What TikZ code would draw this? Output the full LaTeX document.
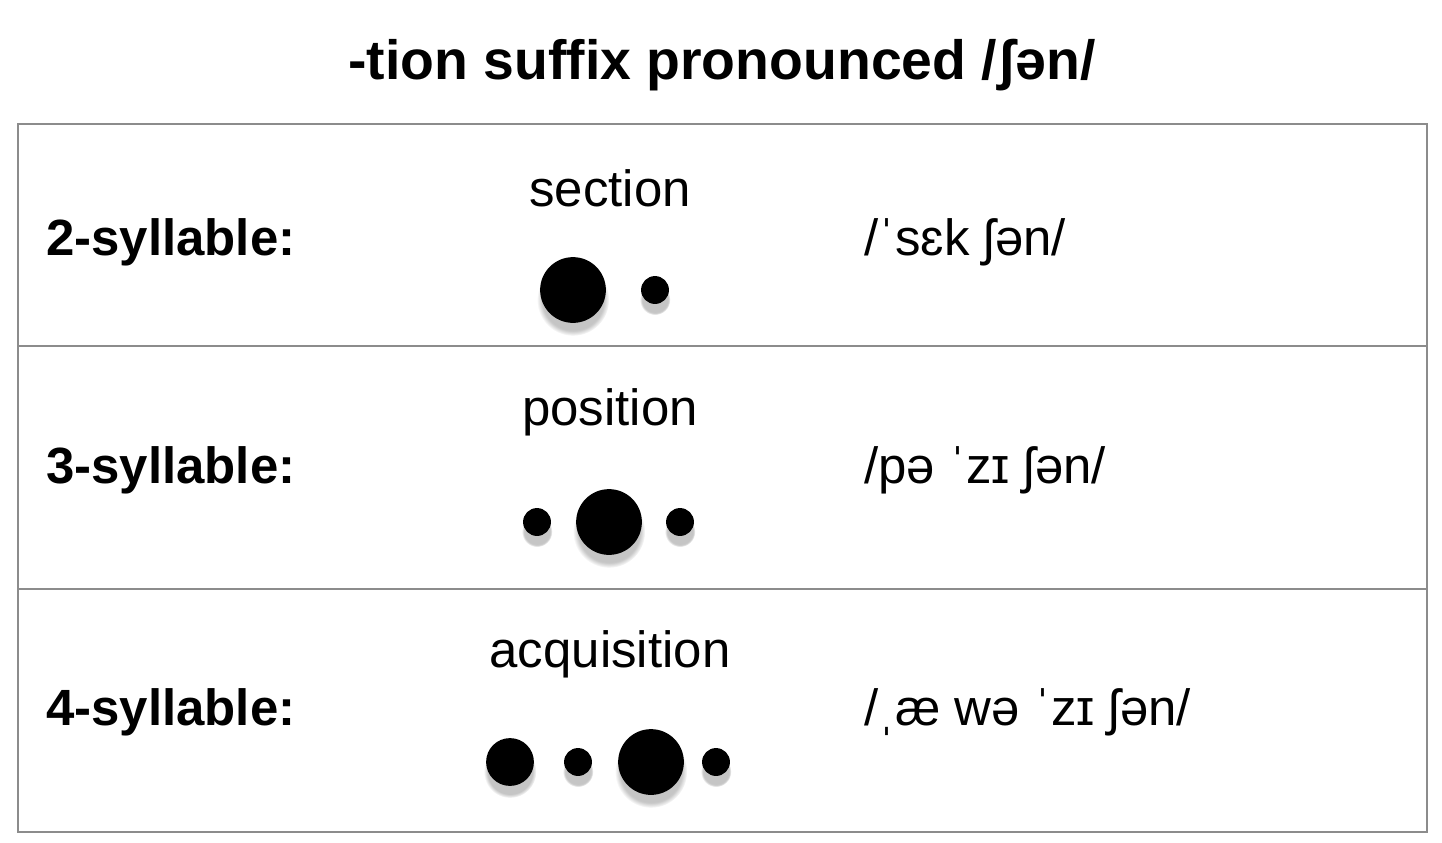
\documentclass[tikz,border=0pt]{standalone}
\usepackage{fontspec}
\setmainfont{Liberation Sans}
\usetikzlibrary{shadows}
\tikzset{
  rowlabel/.style={anchor=west, font=\fontsize{29}{34}\selectfont\bfseries},
  word/.style={font=\fontsize{29}{34}\selectfont},
  ipa/.style={anchor=west, font=\fontsize{29}{34}\selectfont},
  stress/.style={circle, fill=black, inner sep=0pt, minimum size=#1,
    circular drop shadow={shadow xshift=0pt, shadow yshift=-5pt, fill=black!45, opacity=0.5}},
  grid/.style={draw=black!45, line width=1.3pt}
}
\begin{document}
\begin{tikzpicture}[x=0.02cm, y=-0.02cm]
\useasboundingbox (0,0) rectangle (1442,842);
\node[font=\fontsize{31.5}{36}\selectfont\bfseries] (title) at (722,65) {-tion suffix pronounced /ʃən/};
% table
\draw[grid] (18,124) rectangle (1427,832);
\draw[grid] (18,346) -- (1427,346);
\draw[grid] (18,589) -- (1427,589);
% 2 syllables
\node[rowlabel] (two) at (40,242) {2-syllable:};
\node[word] (section) at (610,188) {section};
\node[ipa] (sectionipa) at (858,242) {/ˈsɛk ʃən/};
\node[stress=66pt*0.567] (s1) at (573,290) {};
\node[stress=28pt*0.567] (s2) at (655,290) {};
% 3 syllables
\node[rowlabel] (three) at (40,470) {3-syllable:};
\node[word] (position) at (610,412) {position};
\node[ipa] (positionipa) at (858,470) {/pə ˈzɪ ʃən/};
\node[stress=28pt*0.567] (p1) at (537,522) {};
\node[stress=66pt*0.567] (p2) at (609,522) {};
\node[stress=28pt*0.567] (p3) at (680,522) {};
% 4 syllables
\node[rowlabel] (four) at (40,712) {4-syllable:};
\node[word] (acquisition) at (610,654) {acquisition};
\node[ipa] (acquisitionipa) at (858,712) {/ˌæ wə ˈzɪ ʃən/};
\node[stress=48pt*0.567] (a1) at (510,762) {};
\node[stress=28pt*0.567] (a2) at (578,762) {};
\node[stress=66pt*0.567] (a3) at (651,762) {};
\node[stress=28pt*0.567] (a4) at (716,762) {};
\end{tikzpicture}
\end{document}
